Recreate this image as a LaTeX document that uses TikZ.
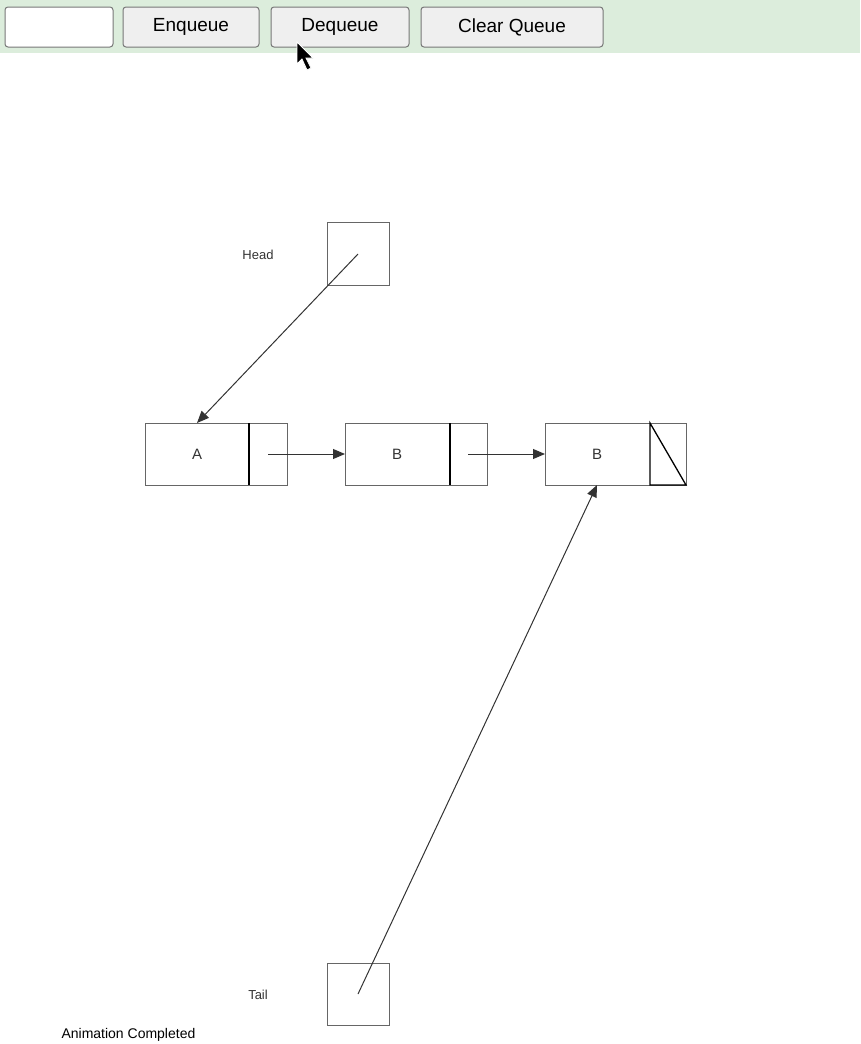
\documentclass[tikz,border=0pt]{standalone}
\usepackage{fontspec}
\setmainfont{Liberation Sans}
\usetikzlibrary{arrows.meta}
\definecolor{bar}{HTML}{DCEDDC}
\definecolor{btn}{HTML}{EFEFEF}
\definecolor{bd}{HTML}{777777}
\tikzset{x=1pt,y=-1pt,
 btnbox/.style={draw=bd,fill=btn,rounded corners=3pt,line width=1pt},
 cell/.style={draw=black!60,line width=0.9pt},
 lbl/.style={font=\fontsize{13}{13}\selectfont,text=black!80},
 ptr/.style={draw=black!80,line width=1pt,-{Triangle[length=12pt,width=10pt]}}}
\begin{document}
\begin{tikzpicture}
\useasboundingbox (0,0) rectangle (860,1044);
\fill[bar] (0,0) rectangle (860,53);
\draw[btnbox,fill=white] (5,7) rectangle (113,47);
\draw[btnbox] (123,7) rectangle (259,47);
\draw[btnbox] (271,7) rectangle (409,47);
\draw[btnbox] (421,7) rectangle (603,47);
\node[font=\fontsize{19}{19}\selectfont] (enq) at (191,27) {Enqueue};
\node[font=\fontsize{19}{19}\selectfont] (deq) at (340,27) {Dequeue};
\node[font=\fontsize{19}{19}\selectfont] (clr) at (512,27) {Clear Queue};
% cursor
\filldraw[fill=black,draw=white,line width=0.8pt] (297,42) -- (297,64) -- (302,59) -- (307,70) -- (311,68) -- (306,58) -- (313,58) -- cycle;
% head / tail
\draw[cell] (327,222) rectangle (389,285);
\coordinate (hc) at (358,254);
\node[lbl] (head) at (258,255) {Head};
\draw[cell] (327,963) rectangle (389,1025);
\coordinate (tc) at (358,994);
\node[lbl] (tail) at (258,995) {Tail};
% list nodes
\draw[cell] (145,423) rectangle (287,485); \draw[line width=1.3pt] (249,423) -- (249,485);
\draw[cell] (345,423) rectangle (487,485); \draw[line width=1.3pt] (450,423) -- (450,485);
\draw[cell] (545,423) rectangle (686,485); \draw[line width=1.3pt] (650,423) -- (650,485) -- (686,485) -- cycle;
\node[lbl,font=\fontsize{15}{15}\selectfont] (a) at (197,454) {A};
\node[lbl,font=\fontsize{15}{15}\selectfont] (b1) at (397,454) {B};
\node[lbl,font=\fontsize{15}{15}\selectfont] (b2) at (597,454) {B};
\coordinate (atop) at (197,423);
\coordinate (b2bot) at (597,485);
\coordinate (p1) at (268,454); \coordinate (b1l) at (345,454);
\coordinate (p2) at (468,454); \coordinate (b2l) at (545,454);
\draw[ptr] (hc) -- (atop);
\draw[ptr] (tc) -- (b2bot);
\draw[ptr] (p1) -- (b1l);
\draw[ptr] (p2) -- (b2l);
\node[font=\fontsize{14}{14}\selectfont,anchor=west] (st) at (58,1035) {Animation Completed};
\end{tikzpicture}
\end{document}
